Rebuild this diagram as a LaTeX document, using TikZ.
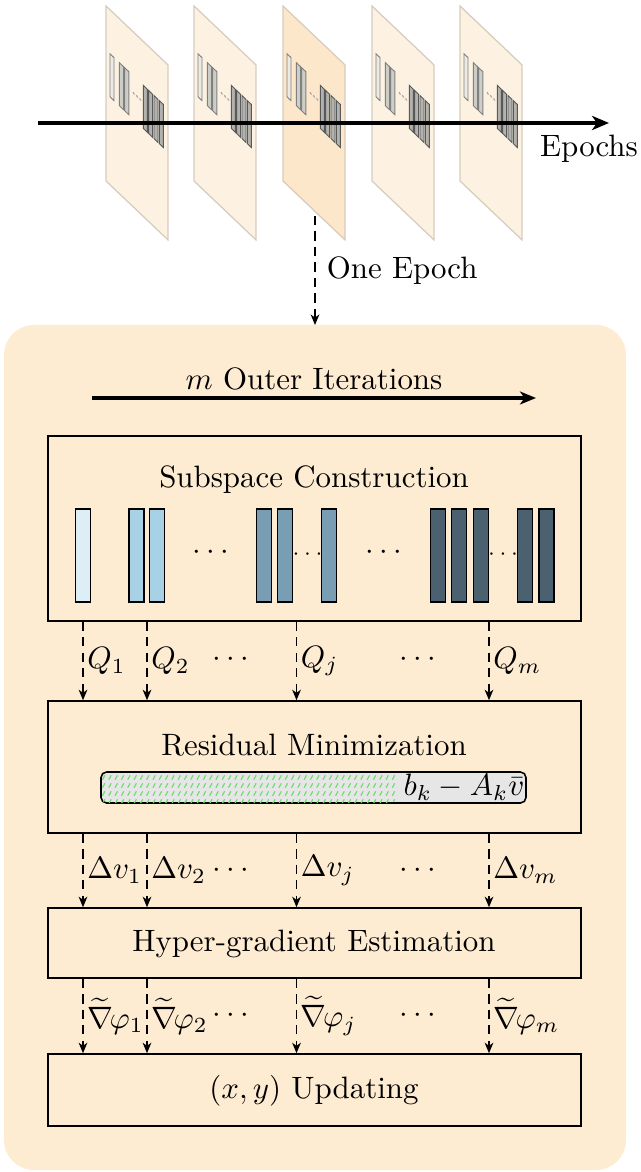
\documentclass[tikz,border=0pt]{standalone}
\usetikzlibrary{arrows.meta,fit}
\definecolor{panel}{RGB}{254,236,210}
\definecolor{planeA}{RGB}{253,242,226}
\definecolor{planeB}{RGB}{252,231,202}
\definecolor{planeedge}{RGB}{214,204,190}
\definecolor{pbarA}{RGB}{236,234,226}
\definecolor{pbarB}{RGB}{206,206,200}
\definecolor{pbarC}{RGB}{178,178,174}
\definecolor{barA}{RGB}{222,238,247}
\definecolor{barB}{RGB}{169,209,230}
\definecolor{barC}{RGB}{121,158,180}
\definecolor{barD}{RGB}{75,97,111}
\definecolor{hatch}{RGB}{110,222,110}
\definecolor{resfill}{RGB}{230,230,230}
\begin{document}
\begin{tikzpicture}[x=0.3236pt,y=-0.3236pt,
  box/.style={draw, line width=0.5pt, inner sep=0pt},
  colbar/.style={draw, line width=0.5pt},
  pbar/.style={draw=black!50, line width=0.3pt},
  darr/.style={dash pattern=on 3pt off 2pt, line width=0.45pt,
     -{Stealth[length=3.4pt,width=2.8pt,inset=1pt]}},
  bigarr/.style={line width=1.25pt, -{Stealth[length=5.5pt,width=4.6pt,inset=1.6pt]}},
  midarr/.style={line width=1pt, -{Stealth[length=5.2pt,width=4.2pt,inset=1.5pt]}},
  lab/.style={anchor=west, inner sep=0.6pt, xshift=0.6pt},
  title/.style={inner sep=0pt}]
\useasboundingbox (0,0) rectangle (640,1172);

% ---------- planes (epochs) ----------
\foreach \L/\c in {106/planeA,194/planeA,283/planeB,372/planeA,460/planeA}{
  \begin{scope}[shift={(\L,6)}, yslant=-0.95]
    \filldraw[fill=\c, draw=planeedge, line width=0.4pt] (0,0) rectangle (62,175);
    \filldraw[pbar, fill=pbarA] (4,44) rectangle (8,87);
    \filldraw[pbar, fill=pbarB] (13.3,44) rectangle (17.5,87);
    \filldraw[pbar, fill=pbarB] (18.7,44) rectangle (22.9,87);
    \foreach \u in {27.8,31.0,34.2}{\fill[black!35] (\u,61) circle[radius=0.4pt];}
    \foreach \u in {37.3,42.7,48,53.3}{\filldraw[pbar, draw=black!65, fill=pbarC] (\u,44) rectangle ({\u+4},87);}
  \end{scope}
}
\coordinate (e0) at (38,123);
\coordinate (e1) at (609,123);
\draw[bigarr] (e0) -- (e1);
\node[title] (epochs) at (589,149) {Epochs};

% ---------- panel ----------
\coordinate (ptop) at (315,325);
\coordinate (pstart) at (315,216);
\fill[panel, rounded corners=9.7pt] (4,325) rectangle (626,1170);
\draw[darr] (pstart) -- node[lab, inner sep=3pt] (oneepoch) {One Epoch} (ptop);

\node[title] (outer) at (314,379) {$m$ Outer Iterations};
\coordinate (o0) at (92,398);
\coordinate (o1) at (536,398);
\draw[midarr] (o0) -- (o1);

% ---------- boxes ----------
\node[box, fit={(48,436) (581,621)}] (b1) {};
\node[box, fit={(48,701) (581,833)}] (b2) {};
\node[box, fit={(48,908) (581,978)}] (b3) {};
\node[box, fit={(48,1054) (581,1126)}] (b4) {};

\node[title] (t1) at (314,480) {Subspace Construction};
\node[title] (t2) at (314,745) {Residual Minimization};
\node[title] (t3) at (314,944) {Hyper-gradient Estimation};
\node[title] (t4) at (314,1091) {$(x,y)$ Updating};

% bars in subspace construction
\filldraw[colbar, fill=barA] (75.5,509) rectangle (90.5,602);
\foreach \x in {129,149.7}{\filldraw[colbar, fill=barB] (\x,509) rectangle ({\x+15},602);}
\foreach \x in {256.7,277.3,321.7}{\filldraw[colbar, fill=barC] (\x,509) rectangle ({\x+15},602);}
\foreach \x in {430.5,451.6,473.4,517.7,538.8}{\filldraw[colbar, fill=barD] (\x,509) rectangle ({\x+15},602);}
\node[title] (d1) at (211,553) {$\cdots$};
\node[title] (d2) at (384,553) {$\cdots$};
\node[title, font=\scriptsize] (d3) at (307.5,554) {$\cdots$};
\node[title, font=\scriptsize] (d4) at (503,554) {$\cdots$};

% residual bar
\node[draw, line width=0.5pt, fill=resfill, rounded corners=1.8pt, inner sep=0pt,
      fit={(101,772) (526,803)}] (res) {};
\begin{scope}
  \clip[rounded corners=1.8pt] (101,772) rectangle (396,803);
  \foreach \yy in {777.5,785.5,793.5,801.5}{
    \foreach \xx in {102.5,108.8,...,396}{
      \draw[hatch, line width=0.38pt] (\xx,\yy+2.2) -- (\xx+2.4,\yy-2.2);
    }
  }
\end{scope}
\node[title] (resid) at (464,787) {$b_k-A_k\bar v$};

% ---------- columns of arrows ----------
\coordinate (c1) at (83,0);
\coordinate (c2) at (147,0);
\coordinate (c3) at (296.5,0);
\coordinate (c4) at (489,0);

\draw[darr] (b1.south -| c1) -- node[lab] {$Q_1$} (b2.north -| c1);
\draw[darr] (b1.south -| c2) -- node[lab] {$Q_2$} (b2.north -| c2);
\draw[darr] (b1.south -| c3) -- node[lab] {$Q_j$} (b2.north -| c3);
\draw[darr] (b1.south -| c4) -- node[lab] {$Q_m$} (b2.north -| c4);
\node[title] (q1) at (231,660) {$\cdots$};
\node[title] (q2) at (418,660) {$\cdots$};

\draw[darr] (b2.south -| c1) -- node[lab] {$\Delta v_1$} (b3.north -| c1);
\draw[darr] (b2.south -| c2) -- node[lab] {$\Delta v_2$} (b3.north -| c2);
\draw[darr] (b2.south -| c3) -- node[lab] {$\Delta v_j$} (b3.north -| c3);
\draw[darr] (b2.south -| c4) -- node[lab] {$\Delta v_m$} (b3.north -| c4);
\node[title] (v1) at (231,871) {$\cdots$};
\node[title] (v2) at (418,871) {$\cdots$};

\draw[darr] (b3.south -| c1) -- node[lab] {$\widetilde{\nabla}\mkern-2mu\varphi_1$} (b4.north -| c1);
\draw[darr] (b3.south -| c2) -- node[lab] {$\widetilde{\nabla}\mkern-2mu\varphi_2$} (b4.north -| c2);
\draw[darr] (b3.south -| c3) -- node[lab] {$\widetilde{\nabla}\mkern-2mu\varphi_j$} (b4.north -| c3);
\draw[darr] (b3.south -| c4) -- node[lab] {$\widetilde{\nabla}\mkern-2mu\varphi_m$} (b4.north -| c4);
\node[title] (g1) at (231,1016) {$\cdots$};
\node[title] (g2) at (418,1016) {$\cdots$};
\end{tikzpicture}
\end{document}
